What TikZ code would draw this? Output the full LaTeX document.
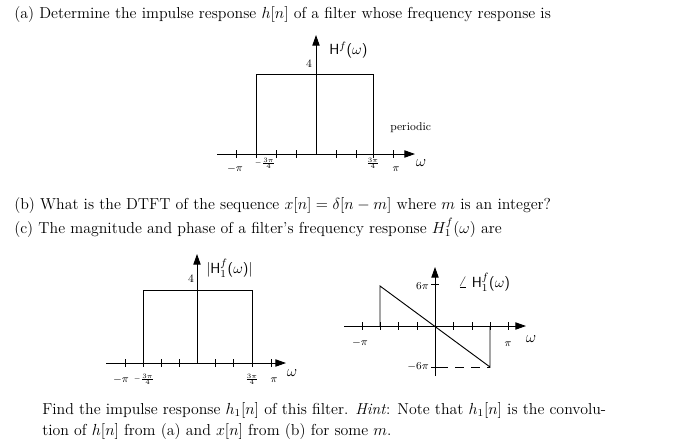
\documentclass[tikz,border=0pt]{standalone}
\usetikzlibrary{arrows.meta}
\begin{document}
\begin{tikzpicture}[x=0.75pt,y=-0.75pt,
  txt/.style={anchor=west,inner sep=0pt,font=\fontsize{11.9}{14}\selectfont},
  lab/.style={inner sep=0pt,font=\fontsize{8.5}{9}\selectfont},
  hand/.style={inner sep=0pt,font=\sffamily\fontsize{11}{12}\selectfont},
  big/.style={inner sep=0pt,font=\fontsize{13}{14}\selectfont},
  ax/.style={line width=0.7pt,-{Triangle[length=8pt,width=5.5pt]}},
  ln/.style={line width=0.7pt}]
\useasboundingbox (0,0) rectangle (700,447);
\node[txt] (ta) at (14,14) {(a) Determine the impulse response $h[n]$ of a filter whose frequency response is};
% graph 1
\coordinate (x1l) at (217,154); \coordinate (x1r) at (415,154);
\coordinate (y1b) at (316,154); \coordinate (y1t) at (316,35);
\draw[ax] (x1l) -- (x1r);
\draw[ax] (y1b) -- (y1t);
\draw[ln] (256,154) -- (256,74) -- (373,74) -- (373,154);
\foreach \x in {236,256,276,296,336,356,373,393} \draw[ln] (\x,150) -- (\x,158);
\node[lab] (g1four) at (309,64) {4};
\node[hand,anchor=west] (g1h) at (329,50) {H$^f$($\omega$)};
\node[lab,anchor=west] (g1p) at (390,128) {periodic};
\node[big] (g1w) at (421,163) {$\omega$};
\node[lab] (g1a) at (235,169) {$-\pi$};
\node[lab] (g1b) at (265,163) {\tiny$-\frac{3\pi}{4}$};
\node[lab] (g1c) at (373,163) {\tiny$\frac{3\pi}{4}$};
\node[lab] (g1d) at (396,169) {$\pi$};
\node[txt] (tb) at (14,205) {(b) What is the DTFT of the sequence $x[n]=\delta[n-m]$ where $m$ is an integer?};
\node[txt] (tc) at (14,228) {(c) The magnitude and phase of a filter's frequency response $H_1^f(\omega)$ are};
% graph 2
\draw[ax] (106,363) -- (286,363);
\draw[ax] (197,363) -- (197,254);
\draw[ln] (143,363) -- (143,290) -- (252,290) -- (252,363);
\foreach \x in {125,143,161,179,215,233,252,271} \draw[ln] (\x,359) -- (\x,367);
\node[lab] (g2four) at (191,279) {4};
\node[hand,anchor=west] (g2h) at (206,268) {|H$_1^f$($\omega$)|};
\node[big] (g2w) at (292,373) {$\omega$};
\node[lab] (g2a) at (121,380) {$-\pi$};
\node[lab] (g2b) at (144,379) {\tiny$-\frac{3\pi}{4}$};
\node[lab] (g2c) at (252,379) {\tiny$\frac{3\pi}{4}$};
\node[lab] (g2d) at (274,380) {$\pi$};
% graph 3
\draw[ax] (344,326) -- (526,326);
\draw[ax] (435,376) -- (435,267);
\foreach \x in {362,380,398,417,453,472,490,508} \draw[ln] (\x,322) -- (\x,330);
\draw[ln] (431,284) -- (439,284);
\draw[ln] (431,367) -- (439,367);
\draw[ln] (380,326) -- (380,286) -- (490,367) -- (490,326);
\draw[ln,dash pattern=on 7pt off 5pt] (439,367) -- (490,367);
\node[lab,anchor=east] (g3a) at (429,286) {$6\pi$};
\node[lab,anchor=east] (g3b) at (429,367) {$-6\pi$};
\node[hand,anchor=west] (g3h) at (458,282) {$\angle$ H$_1^f$($\omega$)};
\node[lab] (g3c) at (360,343) {$-\pi$};
\node[lab] (g3d) at (508,344) {$\pi$};
\node[big] (g3w) at (531,339) {$\omega$};
\node[txt] (td) at (42,410) {Find the impulse response $h_1[n]$ of this filter. \textit{Hint}: Note that $h_1[n]$ is the convolu-};
\node[txt] (te) at (42,431) {tion of $h[n]$ from (a) and $x[n]$ from (b) for some $m$.};
\end{tikzpicture}
\end{document}
